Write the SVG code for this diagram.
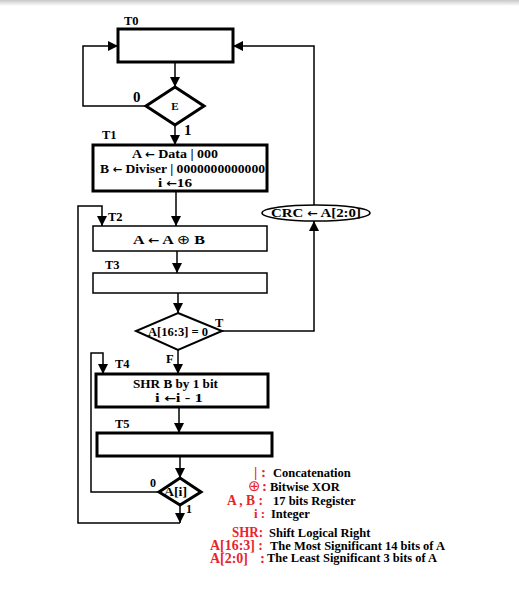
<svg xmlns="http://www.w3.org/2000/svg" width="519" height="593" viewBox="0 0 519 593">
<defs>
<linearGradient id="topbar" x1="0" y1="0" x2="0" y2="1">
<stop offset="0" stop-color="#c8c8c8"/>
<stop offset="1" stop-color="#ffffff"/>
</linearGradient>
<marker id="ah" markerUnits="userSpaceOnUse" markerWidth="10" markerHeight="10" refX="10" refY="5" orient="auto">
<path d="M0,0 L10,5 L0,10 z" fill="#000"/>
</marker>
</defs>
<style>
text{font-family:"Liberation Serif","Times New Roman",serif;font-weight:bold;fill:#000}
.thick{fill:#fff;stroke:#000;stroke-width:3}
.thin{fill:#fff;stroke:#000;stroke-width:1.5}
.lbl{font-size:12.5px}
.body{font-size:13px}
.c{text-anchor:middle}
.ar{font-family:"DejaVu Sans",sans-serif;font-weight:bold;font-size:11px}
.op{font-family:"DejaVu Sans",sans-serif;font-weight:normal}
.conn{fill:none;stroke:#000;stroke-width:1.5}
.red{fill:#e8242c;font-size:15px}
.leg{font-size:12.5px}
</style>
<rect x="0" y="0" width="519" height="6" fill="url(#topbar)"/>

<g id="connectors">
<path class="conn" d="M175,62 V87" marker-end="url(#ah)"/>
<path class="conn" d="M146,106 H83 V46 H118" marker-end="url(#ah)"/>
<path class="conn" d="M175,125 V145" marker-end="url(#ah)"/>
<path class="conn" d="M176,191 V226" marker-end="url(#ah)"/>
<path class="conn" d="M177,251 V273" marker-end="url(#ah)"/>
<path class="conn" d="M178,293 V313" marker-end="url(#ah)"/>
<path class="conn" d="M222,331 H314 V221" marker-end="url(#ah)"/>
<path class="conn" d="M314,205 V46 H233" marker-end="url(#ah)"/>
<path class="conn" d="M178,350 V374" marker-end="url(#ah)"/>
<path class="conn" d="M179,407 V433" marker-end="url(#ah)"/>
<path class="conn" d="M180,456 V478" marker-end="url(#ah)"/>
<path class="conn" d="M160,492 H91 V353 H103 V374" marker-end="url(#ah)"/>
<path class="conn" d="M180,505 V523" marker-end="url(#ah)"/>
<path class="conn" d="M180,523 H78 V206 H102 V226" marker-end="url(#ah)"/>
<text class="lbl" x="215" y="327">T</text>
<text class="lbl" x="166" y="363">F</text>
<text x="133" y="102" style="font-size:15px">0</text>
<text x="184" y="135" style="font-size:15px">1</text>
<text style="font-size:12px" x="150" y="487">0</text>
<text style="font-size:12px" x="186" y="513">1</text>
</g>

<g id="T0">
<rect class="thick" x="118" y="29" width="115" height="33"/>
<text class="lbl" x="124" y="25">T0</text>
</g>

<g id="E">
<polygon class="thick" points="175,87 204,106 175,125 146,106"/>
<text class="c" x="175" y="110" style="font-size:11px">E</text>
</g>

<g id="T1">
<rect class="thick" x="93" y="145" width="174" height="46"/>
<text class="lbl" x="102" y="139">T1</text>
<text class="body" x="132" y="158" textLength="86" lengthAdjust="spacingAndGlyphs">A <tspan class="ar">←</tspan> Data | 000</text>
<text class="body" x="100" y="173" textLength="165" lengthAdjust="spacingAndGlyphs">B <tspan class="ar">←</tspan> Diviser | 0000000000000</text>
<text class="body" x="158" y="187" textLength="34" lengthAdjust="spacingAndGlyphs">i <tspan class="ar">←</tspan>16</text>
</g>

<g id="T2">
<rect class="thin" x="93" y="226" width="174" height="25"/>
<text class="lbl" x="108" y="221">T2</text>
<text class="body" x="133" y="244" textLength="72" lengthAdjust="spacingAndGlyphs">A <tspan class="ar">←</tspan> A <tspan class="op">⊕</tspan>  B</text>
</g>

<g id="CRC">
<ellipse cx="316" cy="213" rx="54" ry="8" fill="#fff" stroke="#000" stroke-width="1.5"/>
<text class="body" x="271" y="217" textLength="90" lengthAdjust="spacingAndGlyphs">CRC <tspan class="ar">←</tspan>  A[2:0]</text>
</g>

<g id="T3">
<rect class="thin" x="93" y="273" width="174" height="20"/>
<text class="lbl" x="105" y="269">T3</text>
</g>

<g id="D1">
<polygon class="thin" points="178,313 222,331 178,350 136,331" style="stroke-width:2"/>
<text class="body" x="148" y="336" textLength="60" lengthAdjust="spacingAndGlyphs">A[16:3] = 0</text>
</g>

<g id="T4">
<rect class="thick" x="96" y="374" width="172" height="33"/>
<text class="lbl" x="115" y="368">T4</text>
<text class="body" x="133" y="388" textLength="85" lengthAdjust="spacingAndGlyphs">SHR  B  by 1 bit</text>
<text class="body" x="155" y="402" textLength="48" lengthAdjust="spacingAndGlyphs">i <tspan class="ar">←</tspan>i  - 1</text>
</g>

<g id="T5">
<rect class="thick" x="97" y="433" width="175" height="23"/>
<text class="lbl" x="115" y="428">T5</text>
</g>

<g id="D2">
<polygon class="thick" points="180,478 201,492 180,505 159,492"/>
<text x="164" y="496" style="font-size:12px" textLength="23" lengthAdjust="spacingAndGlyphs">A[i]</text>
</g>

<g id="legend">
<text class="red" x="254" y="477">| :</text>
<text class="leg" x="273" y="477">Concatenation</text>
<text class="red op" x="248" y="491" style="font-size:15px">⊕</text>
<text class="red" x="262" y="491">:</text>
<text class="leg" x="270" y="491">Bitwise XOR</text>
<text class="red" x="227" y="505" textLength="36" lengthAdjust="spacingAndGlyphs">A , B :</text>
<text class="leg" x="273" y="505">17 bits Register</text>
<text class="red" x="254" y="518" style="font-size:13px">i :</text>
<text class="leg" x="271" y="518">Integer</text>
<text class="red" x="232" y="537" textLength="31" lengthAdjust="spacingAndGlyphs">SHR:</text>
<text class="leg" x="269" y="537">Shift Logical Right</text>
<text class="red" x="210" y="550" textLength="53" lengthAdjust="spacingAndGlyphs">A[16:3] :</text>
<text class="leg" x="270" y="550" textLength="175" lengthAdjust="spacingAndGlyphs">The Most Significant 14 bits of A</text>
<text class="red" x="210" y="563" textLength="38" lengthAdjust="spacingAndGlyphs">A[2:0]</text>
<text class="red" x="260" y="563">:</text>
<text class="leg" x="267" y="562" textLength="170" lengthAdjust="spacingAndGlyphs">The Least Significant 3 bits of A</text>
</g>
</svg>
